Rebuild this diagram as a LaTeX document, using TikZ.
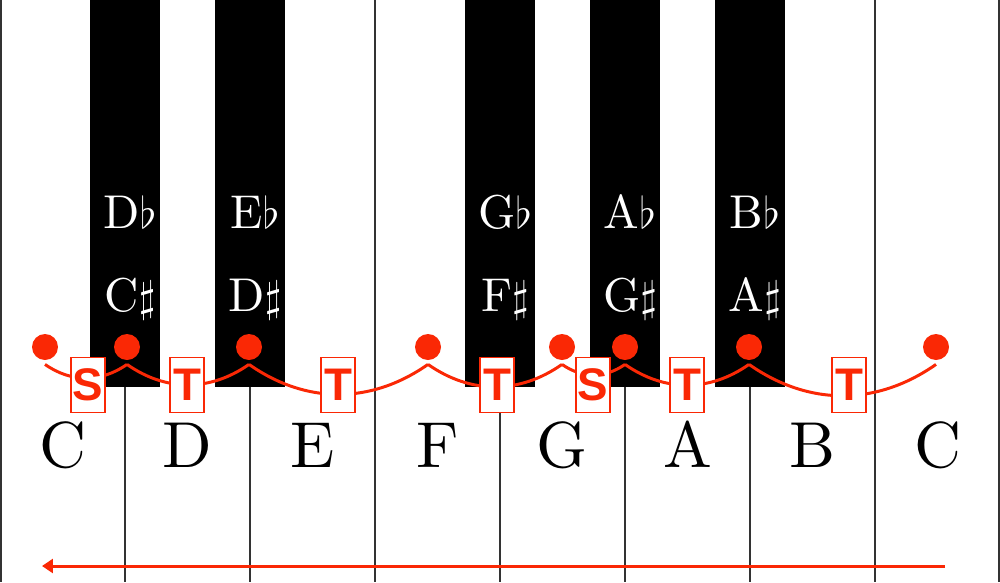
\documentclass[tikz,border=0pt]{standalone}
\usepackage{fontspec}
\newfontfamily\stepfont{Liberation Sans}
\newfontfamily\keyfont{lmroman10-regular}[Extension=.otf]
\usetikzlibrary{arrows.meta}
\definecolor{notered}{RGB}{250,40,5}
\tikzset{>={Triangle[length=0.22cm,width=0.28cm]},
  dot/.style={circle,fill=notered,inner sep=0pt,minimum size=0.52cm,outer sep=2.5pt},
  stepline/.style={notered,line width=1.7pt},
  stepbox/.style={draw=notered,line width=1pt,fill=white,text=notered,inner sep=0pt,
    minimum width=0.68cm,minimum height=1.1cm,font=\stepfont\bfseries\fontsize{26}{26}\selectfont},
  whitename/.style={anchor=base,font=\keyfont\fontsize{37}{40}\selectfont},
  blackname/.style={anchor=base,text=white,font=\keyfont\fontsize{27}{30}\selectfont}}

\begin{document}
\begin{tikzpicture}[x=0.02cm,y=-0.02cm]
\useasboundingbox (0,0) rectangle (1000,582);
% keys
\foreach \x in {1,125,250,375,500,625,750,875,999}
  \draw[black!80,line width=0.6pt] (\x,0) -- (\x,582);
\foreach \x in {90,215,465,590,715}
  \fill (\x,0) rectangle ++(70,387);
% note names
\foreach \n [count=\i from 0] in {C,D,E,F,G,A,B,C}
  \node[whitename] (w\i) at (62.5+125*\i,467) {\n};
\foreach \x/\lo/\hi in {125/C/D,250/D/E,500/F/G,625/G/A,750/A/B}{
  \node[blackname] (\hi b) at (\x+5,228) {\hi$\flat$};
  \node[blackname] (\lo s) at (\x+5,311) {\lo$\sharp$};
}
% steps
\foreach \x [count=\n] in {45,127,249,428,562,625,749,936}
  \node[dot] (p\n) at (\x,347) {};
\foreach \a/\b/\s/\x in {1/2/S/88,2/3/T/187,3/4/T/338,4/5/T/497,5/6/S/593,6/7/T/687,7/8/T/849}{
  \draw[stepline] (p\a.south) to[bend right=35] (p\b.south);
  \node[stepbox] (s\a) at (\x,385) {\s};
}
\coordinate (arrowstart) at (945,566);
\coordinate (arrowend) at (42,566);
\draw[stepline,->] (arrowstart) -- (arrowend);
\end{tikzpicture}
\end{document}
